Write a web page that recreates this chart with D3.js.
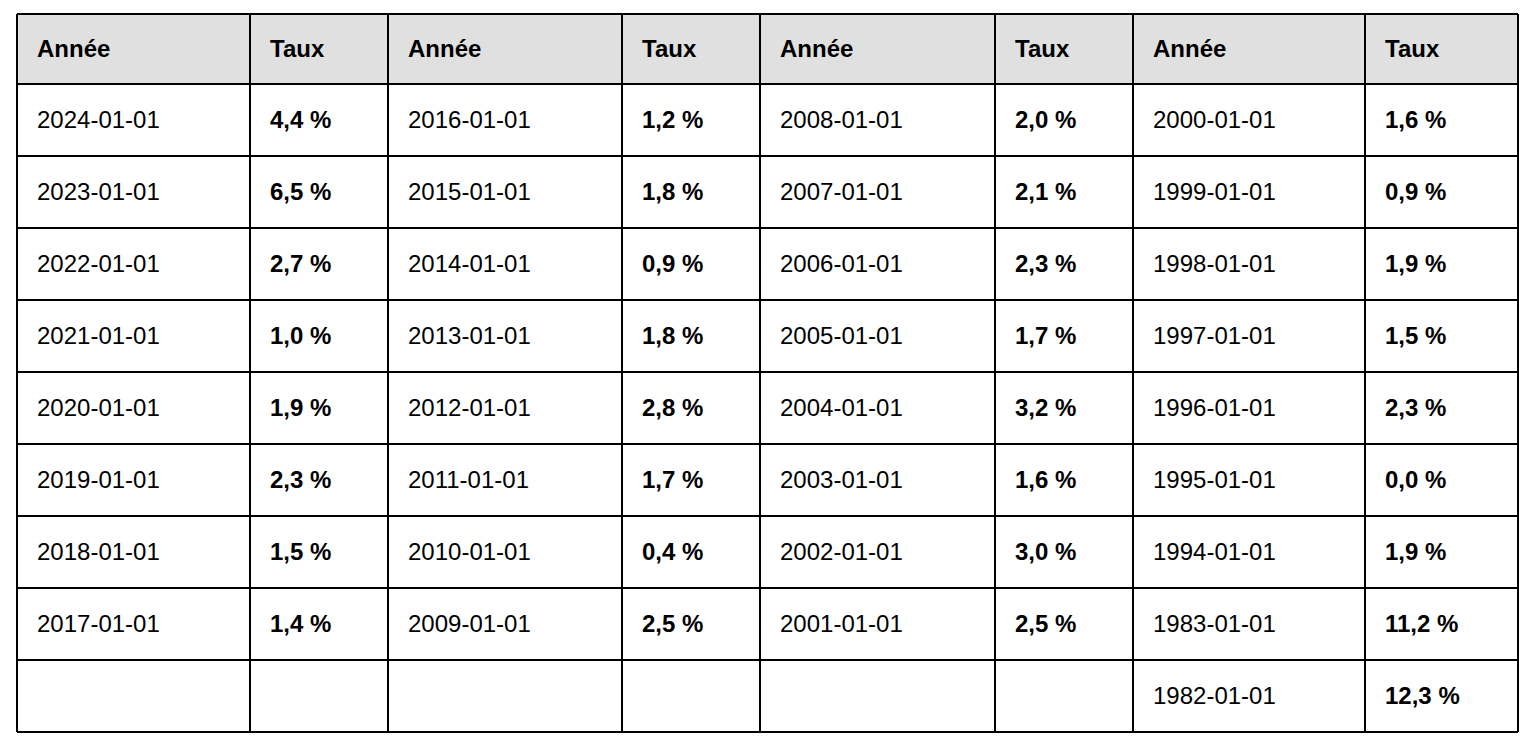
<!DOCTYPE html>
<html><head><meta charset="utf-8">
<script src="https://cdn.jsdelivr.net/npm/d3@7"></script>
<style>body{margin:0;background:#fff}</style>
</head><body><svg id="c" width="1536" height="746"></svg>
<script>
const headers = ["Année","Taux","Année","Taux","Année","Taux","Année","Taux"];
const years1 = ["2024-01-01","2023-01-01","2022-01-01","2021-01-01","2020-01-01","2019-01-01","2018-01-01","2017-01-01",""];
const rates1 = ["4,4 %","6,5 %","2,7 %","1,0 %","1,9 %","2,3 %","1,5 %","1,4 %",""];
const years2 = ["2016-01-01","2015-01-01","2014-01-01","2013-01-01","2012-01-01","2011-01-01","2010-01-01","2009-01-01",""];
const rates2 = ["1,2 %","1,8 %","0,9 %","1,8 %","2,8 %","1,7 %","0,4 %","2,5 %",""];
const years3 = ["2008-01-01","2007-01-01","2006-01-01","2005-01-01","2004-01-01","2003-01-01","2002-01-01","2001-01-01",""];
const rates3 = ["2,0 %","2,1 %","2,3 %","1,7 %","3,2 %","1,6 %","3,0 %","2,5 %",""];
const years4 = ["2000-01-01","1999-01-01","1998-01-01","1997-01-01","1996-01-01","1995-01-01","1994-01-01","1983-01-01","1982-01-01"];
const rates4 = ["1,6 %","0,9 %","1,9 %","1,5 %","2,3 %","0,0 %","1,9 %","11,2 %","12,3 %"];

const cols = [years1,rates1,years2,rates2,years3,rates3,years4,rates4];
const edges = [17,250,388,622,760,995,1133,1365,1518];
const tableTop = 14, headH = 70, rowH = 72, nRows = 9;
const svg = d3.select("#c");
const font = "Liberation Sans, Arial, sans-serif";

svg.append("rect").attr("x",edges[0]).attr("y",tableTop).attr("width",edges[8]-edges[0]).attr("height",headH).attr("fill","#e0e0e0");

const rowY = i => tableTop + headH + i*rowH;
headers.forEach((h,j)=>{
  svg.append("text").attr("x",edges[j]+20).attr("y",tableTop+headH/2).attr("dy","0.35em")
    .attr("font-family",font).attr("font-size",24).attr("font-weight","bold").attr("fill","#000").text(h);
});
cols.forEach((col,j)=>{
  col.forEach((v,i)=>{
    svg.append("text").attr("x",edges[j]+20).attr("y",rowY(i)+rowH/2).attr("dy","0.35em")
      .attr("font-family",font).attr("font-size",24).attr("font-weight", j%2? "bold":"normal")
      .attr("fill","#000").text(v);
  });
});
const bottom = rowY(nRows);
const hy = [tableTop, tableTop+headH]; for(let i=1;i<=nRows;i++) hy.push(rowY(i));
svg.selectAll("line.h").data(hy).enter().append("line").attr("x1",edges[0]).attr("x2",edges[8])
  .attr("y1",d=>d).attr("y2",d=>d).attr("stroke","#000").attr("stroke-width",2);
svg.selectAll("line.v").data(edges).enter().append("line").attr("y1",tableTop).attr("y2",bottom)
  .attr("x1",d=>d).attr("x2",d=>d).attr("stroke","#000").attr("stroke-width",2);
</script></body></html>
